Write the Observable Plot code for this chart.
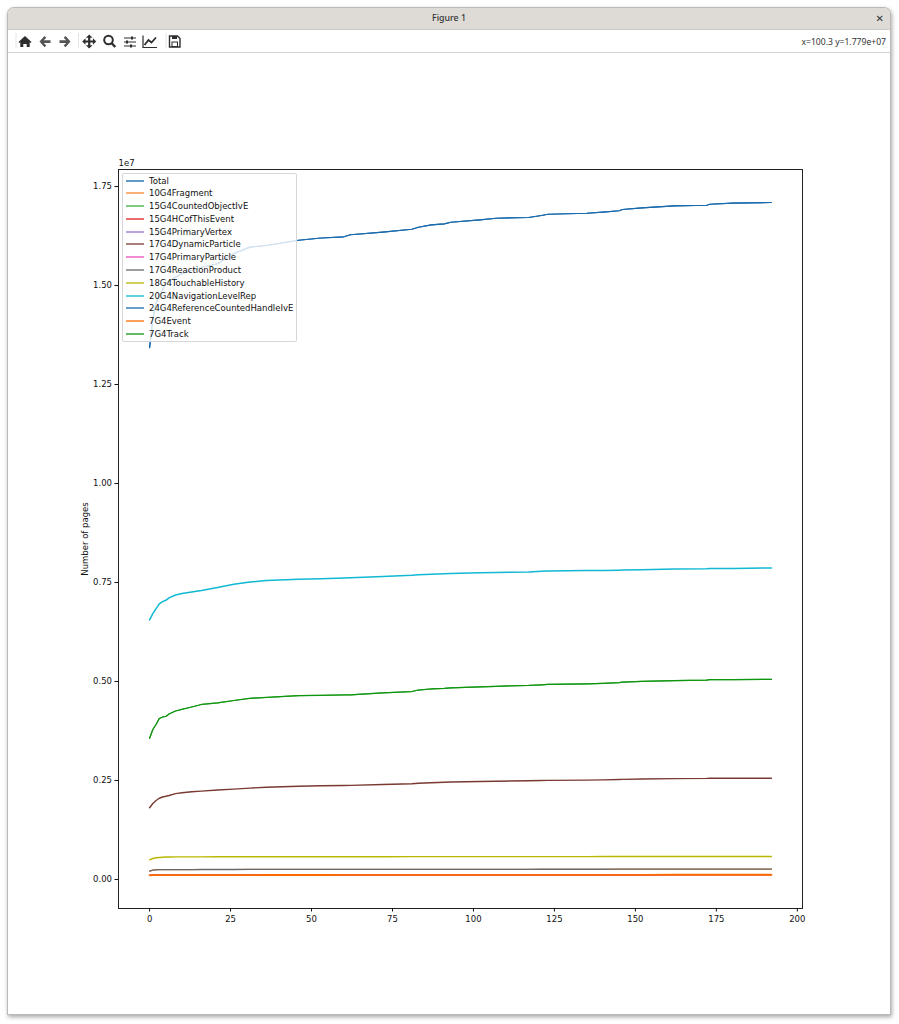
<!DOCTYPE html>
<html><head><meta charset="utf-8">
<script src="https://cdn.jsdelivr.net/npm/d3@7"></script>
<script src="https://cdn.jsdelivr.net/npm/@observablehq/plot@0.6"></script>
<style>
html,body{margin:0;padding:0;background:#fff;width:899px;height:1024px;overflow:hidden}
#win{position:absolute;left:8px;top:8px;width:882px;height:1006px;background:#fff;border-radius:6px 6px 0 0;box-shadow:0 0 0 1px #bdbab5,1px 2px 4px 1px rgba(0,0,0,.35)}
#bar{position:absolute;left:0;top:0;width:882px;height:21px;background:#dedbd6;border-radius:6px 6px 0 0;border-bottom:1px solid #cfccc7;font:8.8px "Noto Sans",sans-serif;color:#333;text-align:center;line-height:21px;font-weight:500}
#close{position:absolute;right:6px;top:0;font:bold 10px "DejaVu Sans",sans-serif;line-height:21px;color:#2e3436}
#tools{position:absolute;left:0;top:22px;width:882px;height:22px;background:#fff;border-bottom:1px solid #d5d3cf}
#tools svg{position:absolute;left:0;top:0}
#status{position:absolute;right:4px;top:6px;font:8.6px "Noto Sans",sans-serif;color:#333;white-space:nowrap}
#chart{position:absolute;left:0;top:0;width:899px;height:1024px}
#legend{position:absolute;left:122px;top:173px;width:173px;height:167px;background:rgba(255,255,255,.8);border:1px solid #d6d6d6;border-radius:2px;font:8.5px "DejaVu Sans",sans-serif;color:#111}
.row{position:absolute;left:0;height:12px;line-height:12px;white-space:nowrap}
.sw{position:absolute;left:3px;top:0;width:18px;height:12px}
.lb{position:absolute;left:26px;top:0}
</style></head>
<body>
<div id="win">
  <div id="bar">Figure 1<span id="close">✕</span></div>
  <div id="tools">
    <svg width="180" height="22" fill="#2e2e2e">
      <path d="M10.500 12l6.500-6 6.500 6-1 1-.8-.7V17h-3v-3h-3.400v3h-3v-4.700l-.8.700z"/>
      <path d="M31.500 11.500l5-5.500 1.800 1.800-2.500 2.400h6.700v2.800h-6.700l2.500 2.400-1.800 1.800z" fill="#555"/>
      <path d="M62.500 11.500l-5-5.500-1.800 1.800 2.500 2.400h-6.700v2.800h6.700l-2.500 2.400 1.800 1.800z" fill="#555"/>
      <path d="M81.200 4.500l3.300 3.300h-2.200v2.600h2.600v-2.200l3.300 3.300-3.300 3.300v-2.200h-2.600v2.600h2.200l-3.300 3.300-3.300-3.300h2.200v-2.600h-2.600v2.200l-3.300-3.300 3.300-3.300v2.200h2.600v-2.600h-2.200z"/>
      <circle cx="100.500" cy="10" r="4.300" fill="none" stroke="#2e2e2e" stroke-width="2"/><path d="M103.500 13l3.800 4" stroke="#2e2e2e" stroke-width="2.400"/>
      <path d="M116 8h12M116 12h12M116 16h12" stroke="#2e2e2e" stroke-width="1.200"/><rect x="123" y="6.500" width="2" height="3"/><rect x="118" y="10.500" width="2" height="3"/><rect x="122" y="14.500" width="2" height="3"/>
      <path d="M135 5.500V17.500H149" fill="none" stroke="#2e2e2e" stroke-width="1.200"/><path d="M136.500 15l4-5 3 2.500 4.500-5" fill="none" stroke="#2e2e2e" stroke-width="1.800"/>
      <path d="M161.500 6h8l2.500 2.500V17h-10.500z" fill="none" stroke="#2e2e2e" stroke-width="1.400"/><rect x="164" y="6" width="5" height="3"/><rect x="164" y="12" width="5.500" height="4.500" fill="none" stroke="#2e2e2e"/>
      <path d="M70.500 3v15M158 3v15M8 3v15" stroke="#e4e4e4" stroke-width="1"/>
    </svg>
    <div id="status">x=100.3 y=1.779e+07</div>
  </div>
</div>
<div id="chart"></div>
<div id="legend"></div>
<script>
const xs = [0,1,2,3,4,5,6,8,10,13,16,21,26,31,36,46,53,60,62,72,81,83,87,91,93,102,107,117,121,123,135,140,145,146,152,162,172,173,180,192];
const total = [1.343,1.415,1.455,1.475,1.490,1.505,1.511,1.521,1.530,1.538,1.546,1.555,1.581,1.597,1.601,1.6144,1.620,1.6230,1.6281,1.6350,1.6422,1.6473,1.6533,1.6558,1.6599,1.6659,1.6700,1.6718,1.6768,1.6801,1.6826,1.6852,1.6887,1.6919,1.6962,1.7013,1.7028,1.7053,1.7079,1.7096];
const counted = [.3568,.3788,.3914,.4066,.4104,.4116,.4179,.4255,.4298,.4356,.4419,.4462,.4520,.4576,.4596,.4642,.4652,.4659,.4664,.4710,.4747,.4785,.4811,.4828,.4841,.4866,.4879,.4899,.4917,.4927,.4939,.4950,.4970,.4982,.5005,.5020,.5036,.5046,.5048,.5053];
const dynamic = [.1811,.1919,.1995,.2051,.2083,.2101,.2121,.2167,.2189,.2215,.2232,.2260,.2283,.2308,.2328,.2354,.2366,.2374,.2376,.2399,.2419,.2429,.2442,.2455,.2460,.2475,.2482,.2493,.2500,.2503,.2510,.2515,.2525,.2528,.2538,.2546,.2553,.2556,.2556,.2558];
const navigation = [.6556,.6715,.6841,.6960,.7018,.7051,.7112,.7183,.7221,.7259,.7297,.7373,.7456,.7512,.7550,.7580,.7595,.7613,.7620,.7651,.7681,.7694,.7706,.7719,.7727,.7744,.7755,.7765,.7783,.7788,.7803,.7806,.7811,.7813,.7823,.7838,.7848,.7851,.7856,.7869];
const touchable = [.0497,.0530,.0548,.0556,.0561,.0566,.0568,.0570,.0571,.0572,.0572,.0573,.0573,.0574,.0574,.0574,.0575,.0575,.0575,.0575,.0576,.0576,.0576,.0576,.0577,.0577,.0577,.0578,.0578,.0578,.0578,.0579,.0579,.0579,.0579,.0580,.0580,.0580,.0581,.0581];
const reaction = [.0210,.0237,.0245,.0248,.0249,.0250,.0250,.0251,.0251,.0251,.0252,.0252,.0252,.0253,.0253,.0253,.0254,.0254,.0254,.0255,.0255,.0255,.0256,.0256,.0256,.0257,.0257,.0257,.0258,.0258,.0258,.0258,.0259,.0259,.0259,.0259,.0260,.0260,.0260,.0260];
const events = [.0105,.0108,.0109,.0110,.0110,.0110,.0110,.0111,.0111,.0111,.0112,.0112,.0112,.0112,.0113,.0113,.0113,.0114,.0114,.0114,.0114,.0115,.0115,.0115,.0115,.0116,.0116,.0116,.0117,.0117,.0117,.0118,.0118,.0118,.0118,.0119,.0119,.0119,.0119,.0119];

const names = ["Total","10G4Fragment","15G4CountedObjectIvE","15G4HCofThisEvent","15G4PrimaryVertex","17G4DynamicParticle","17G4PrimaryParticle","17G4ReactionProduct","18G4TouchableHistory","20G4NavigationLevelRep","24G4ReferenceCountedHandleIvE","7G4Event","7G4Track"];
const colors = ["#0a62a8","#f5862c","#3fae3f","#e01c1c","#9c72c8","#7a3a32","#e84cba","#6a6a6a","#b8b800","#10b8d4","#1a6aae","#ff6a00","#109510"];
const widths = [1.15,1.2,1.2,1.2,1.2,1.4,1.2,1.3,1.4,1.5,1.15,1.8,1.25];
const series = [total,reaction,counted,events,events,dynamic,events,reaction,touchable,navigation,total,events,counted];

const xTicks = [0,25,50,75,100,125,150,175,200];
const yTicks = [0,.25,.5,.75,1,1.25,1.5,1.75];

const lines = series.map((vals,i)=>Plot.line(xs.map((x,j)=>({x,y:vals[j]})),{x:"x",y:"y",stroke:colors[i],strokeWidth:widths[i],strokeLinejoin:"round"}));

const chart = Plot.plot({
  width:899,height:1024,
  marginLeft:118,marginRight:97,marginTop:169,marginBottom:116,
  style:{background:"none",fontFamily:"'DejaVu Sans',sans-serif",fontSize:"8.5px",color:"#111"},
  x:{domain:[-9.6,201.6],label:null},
  y:{domain:[-.0733,1.793],label:null},
  marks:[
    ...lines,
    Plot.frame({stroke:"#222",strokeWidth:1}),
    Plot.axisX({ticks:xTicks,tickSize:3.5,tickPadding:4,label:null,tickFormat:d=>String(d)}),
    Plot.axisY({ticks:yTicks,tickSize:3.5,tickPadding:3,tickFormat:d=>d.toFixed(2),label:"Number of pages",labelAnchor:"center",labelArrow:"none",labelOffset:37}),
    Plot.text(["1e7"],{frameAnchor:"top-left",textAnchor:"start",dy:-10,text:d=>d,fill:"#111"})
  ]
});
document.getElementById("chart").append(chart);

const lg = document.getElementById("legend");
const NS = "http://www.w3.org/2000/svg";
names.forEach((n,i)=>{
  const r=document.createElement("div");r.className="row";r.style.top=(0.6+i*12.77)+"px";
  const s=document.createElementNS(NS,"svg");s.setAttribute("class","sw");s.setAttribute("width","18");s.setAttribute("height","12");
  const l=document.createElementNS(NS,"line");l.setAttribute("x1","0");l.setAttribute("x2","18");l.setAttribute("y1","6");l.setAttribute("y2","6");
  l.setAttribute("stroke",colors[i]);l.setAttribute("stroke-width","1.3");s.append(l);
  const t=document.createElement("div");t.className="lb";t.textContent=n;
  r.append(s,t);lg.append(r);
});
</script>
</body></html>
